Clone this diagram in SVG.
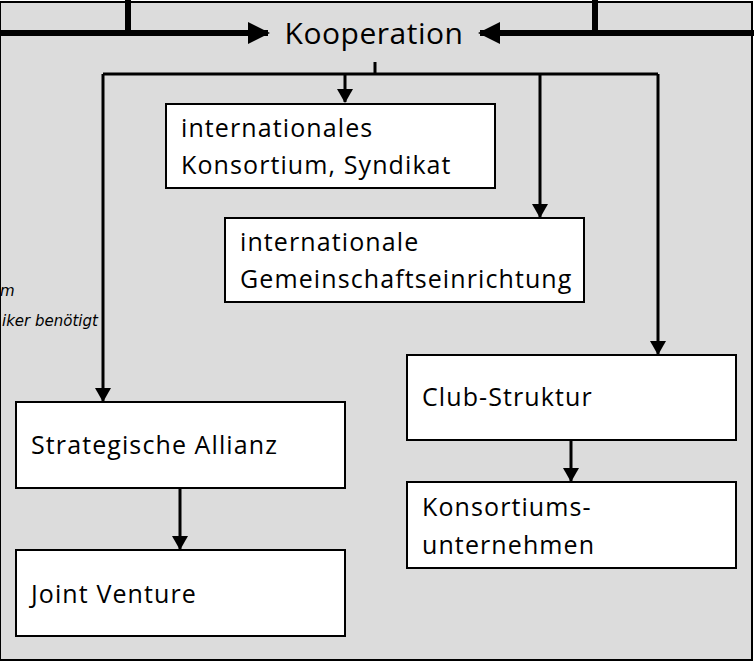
<svg xmlns="http://www.w3.org/2000/svg" width="754" height="667" viewBox="0 0 754 667">
<defs>
<marker id="b" markerWidth="22" markerHeight="22" refX="20" refY="11" orient="auto" markerUnits="userSpaceOnUse" viewBox="0 0 22 22"><path d="M0,0 L22,11 L0,22 z" fill="#000"/></marker>
<marker id="s" markerWidth="14" markerHeight="16" refX="13" refY="8" orient="auto" markerUnits="userSpaceOnUse" viewBox="0 0 14 16"><path d="M0,0 L14,8 L0,16 z" fill="#000"/></marker>
</defs>
<style>
.box{fill:#fff;stroke:#000;stroke-width:2}
.t{font-family:"Open Sans","Noto Sans",sans-serif;font-size:25px;letter-spacing:1.1px;fill:#000}
.k{font-family:"Open Sans","Noto Sans",sans-serif;font-size:30px;letter-spacing:0.5px;fill:#000}
.c{stroke:#000;stroke-width:3;fill:none}
.hw{font-family:"DejaVu Sans",sans-serif;font-style:italic;font-size:15px;fill:#000}
</style>
<rect x="0" y="2" width="752" height="658" fill="#dcdcdc" stroke="#000" stroke-width="2"/>
<text class="k" x="374" y="44" text-anchor="middle">Kooperation</text>
<text class="hw" x="0" y="296">m</text>
<text class="hw" x="2" y="326">iker benötigt</text>
<g id="connectors">
<path class="c" d="M128,0 V33 M595,0 V33" style="stroke-width:6"/>
<path class="c" d="M0,33 H268" style="stroke-width:6" marker-end="url(#b)"/>
<path class="c" d="M754,33 H480" style="stroke-width:6" marker-end="url(#b)"/>
<path class="c" d="M375,62 V74 M103,74 H658"/>
<path class="c" d="M345,74 V102" marker-end="url(#s)"/>
<path class="c" d="M540,74 V217" marker-end="url(#s)"/>
<path class="c" d="M658,74 V354" marker-end="url(#s)"/>
<path class="c" d="M103,74 V401" marker-end="url(#s)"/>
<path class="c" d="M571,440 V481" marker-end="url(#s)"/>
<path class="c" d="M180,488 V549" marker-end="url(#s)"/>
</g>
<g id="n1"><rect class="box" x="166" y="104" width="329" height="84"/><text class="t" x="181" y="137">internationales</text><text class="t" x="181" y="174">Konsortium, Syndikat</text></g>
<g id="n2"><rect class="box" x="225" y="218" width="359" height="84"/><text class="t" x="240" y="251">internationale</text><text class="t" x="240" y="288">Gemeinschaftseinrichtung</text></g>
<g id="n3"><rect class="box" x="407" y="355" width="329" height="85"/><text class="t" x="422" y="406">Club-Struktur</text></g>
<g id="n4"><rect class="box" x="407" y="482" width="329" height="86"/><text class="t" x="422" y="516">Konsortiums-</text><text class="t" x="422" y="554">unternehmen</text></g>
<g id="n5"><rect class="box" x="16" y="402" width="329" height="86"/><text class="t" x="31" y="454">Strategische Allianz</text></g>
<g id="n6"><rect class="box" x="16" y="550" width="329" height="86"/><text class="t" x="31" y="603">Joint Venture</text></g>
</svg>
